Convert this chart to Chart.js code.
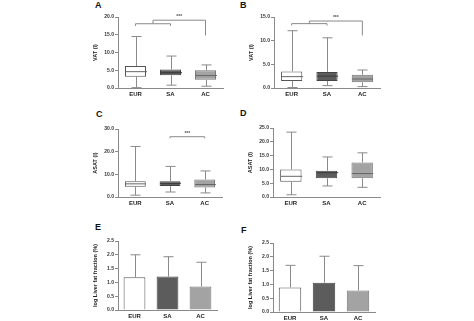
<!DOCTYPE html>
<html>
<head>
  <title>VAT, ASAT and liver fat by group</title>
  <script src="https://cdn.jsdelivr.net/npm/chart.js"></script>
  <style>
    body { margin: 0; width: 474px; height: 321px; overflow: hidden; background: #fff; font-family: "Liberation Sans", Arial, sans-serif; }
    .panel { position: absolute; }
    .tag { position: absolute; font-weight: bold; font-size: 9px; color: #111; }
  </style>
</head>
<body>
  <div class="tag" style="left:95px;top:0px">A</div>
  <div class="tag" style="left:240px;top:0px">B</div>
  <div class="tag" style="left:96px;top:109px">C</div>
  <div class="tag" style="left:240px;top:108px">D</div>
  <div class="tag" style="left:95px;top:222px">E</div>
  <div class="tag" style="left:241px;top:225px">F</div>

  <canvas id="chartA" class="panel" width="135" height="91" style="left:92px;top:11px"></canvas>
  <canvas id="chartB" class="panel" width="136" height="91" style="left:248px;top:11px"></canvas>
  <canvas id="chartC" class="panel" width="134" height="88" style="left:92px;top:123px"></canvas>
  <canvas id="chartD" class="panel" width="137" height="89" style="left:247px;top:122px"></canvas>
  <canvas id="chartE" class="panel" width="129" height="89" style="left:92px;top:235px"></canvas>
  <canvas id="chartF" class="panel" width="132" height="89" style="left:247px;top:237px"></canvas>

  <script>
    const groups = ['EUR', 'SA', 'AC'];

    // five-number summaries per group: [min, q1, median, q3, max]
    const vatA = [[0.1, 3.2, 4.6, 6.2, 14.5], [0.8, 3.6, 4.3, 5.2, 9.0], [0.5, 2.3, 3.5, 5.0, 6.5]];
    const vatB = [[0.1, 1.5, 2.4, 3.5, 12.1], [0.5, 1.5, 2.5, 3.4, 10.6], [0.3, 1.2, 1.9, 2.8, 3.8]];
    const asatC = [[0.8, 4.5, 5.8, 7.0, 22.3], [2.2, 4.8, 6.0, 7.0, 13.5], [1.8, 4.2, 5.5, 7.7, 11.5]];
    const asatD = [[0.8, 5.5, 7.5, 10.0, 23.5], [4.0, 6.8, 8.8, 9.5, 14.5], [3.5, 6.8, 8.5, 12.5, 16.0]];

    // log liver fat fraction: mean and SD
    const fatE = [1.19, 1.21, 0.85];
    const fatESd = [0.81, 0.72, 0.88];
    const fatF = [0.89, 1.06, 0.78];
    const fatFSd = [0.80, 0.96, 0.90];

    const fills = ['#ffffff', '#5c5c5c', '#a3a3a3'];
    const borders = ['#555555', '#444444', '#777777'];
    const medians = ['#666666', '#3a3a3a', '#666666'];
    const lineGrey = '#8a8a8a';

    // whiskers + medians for boxes, upward SD bars for bar panels, significance brackets
    const extrasPlugin = {
      id: 'extras',
      afterDatasetsDraw(chart, args, opts) {
        const { ctx, scales: { x, y } } = chart;
        const meta = chart.getDatasetMeta(0);
        ctx.save();
        ctx.lineWidth = 1;
        if (opts.stats) {
          opts.stats.forEach((s, i) => {
            const bar = meta.data[i];
            const cx = Math.round(bar.x) + 0.5;
            const half = bar.width / 2;
            ctx.strokeStyle = lineGrey;
            ctx.beginPath();
            ctx.moveTo(cx, y.getPixelForValue(s[3])); ctx.lineTo(cx, y.getPixelForValue(s[4]));
            ctx.moveTo(cx, y.getPixelForValue(s[1])); ctx.lineTo(cx, y.getPixelForValue(s[0]));
            ctx.moveTo(cx - 5, y.getPixelForValue(s[4])); ctx.lineTo(cx + 5, y.getPixelForValue(s[4]));
            ctx.moveTo(cx - 5, y.getPixelForValue(s[0])); ctx.lineTo(cx + 5, y.getPixelForValue(s[0]));
            ctx.stroke();
            ctx.strokeStyle = medians[i];
            ctx.beginPath();
            ctx.moveTo(cx - half, y.getPixelForValue(s[2])); ctx.lineTo(cx + half, y.getPixelForValue(s[2]));
            ctx.stroke();
          });
        }
        if (opts.means) {
          opts.means.forEach((m, i) => {
            const cx = Math.round(meta.data[i].x) + 0.5;
            const top = y.getPixelForValue(m + opts.sds[i]);
            ctx.strokeStyle = lineGrey;
            ctx.beginPath();
            ctx.moveTo(cx, y.getPixelForValue(m)); ctx.lineTo(cx, top);
            ctx.moveTo(cx - 5, top); ctx.lineTo(cx + 5, top);
            ctx.stroke();
          });
        }
        if (opts.brackets) {
          ctx.strokeStyle = lineGrey;
          opts.brackets.forEach(path => {
            ctx.beginPath();
            path.forEach(([cx, v], k) => {
              const px = x.getPixelForValue(cx), py = y.getPixelForValue(v);
              if (k === 0) ctx.moveTo(px, py); else ctx.lineTo(px, py);
            });
            ctx.stroke();
          });
        }
        if (opts.stars) {
          ctx.fillStyle = '#555';
          ctx.font = 'bold 5px "Liberation Sans", Arial';
          ctx.textAlign = 'center';
          ctx.textBaseline = 'bottom';
          ctx.fillText('***', x.getPixelForValue(opts.stars[0]), y.getPixelForValue(opts.stars[1]) - 1);
        }
        ctx.restore();
      }
    };

    function scalesFor(yMax, yStep, title) {
      return {
        x: {
          offset: true,
          grid: { display: false, drawTicks: false },
          border: { color: lineGrey, width: 1 },
          ticks: { color: '#222', padding: 3, font: { size: 6, weight: 'bold', family: '"Liberation Sans", Arial' } },
          afterFit: s => { s.height = 14; }
        },
        y: {
          min: 0, max: yMax,
          grid: { drawOnChartArea: false, tickLength: 3, color: lineGrey },
          border: { color: lineGrey, width: 1 },
          ticks: {
            stepSize: yStep, padding: 1, color: '#333',
            font: { size: 5, weight: 'bold', family: '"Liberation Sans", Arial' },
            callback: v => v.toFixed(1)
          },
          title: {
            display: true, text: title, color: '#222', padding: { top: 0, bottom: 2 },
            font: { size: 5.5, weight: 'bold', family: '"Liberation Sans", Arial' }
          },
          afterFit: s => { s.width = 26; }
        }
      };
    }

    function boxPanel(id, stats, yMax, yStep, title, extra) {
      new Chart(document.getElementById(id), {
        type: 'bar',
        data: {
          labels: groups,
          datasets: [{
            data: stats.map(s => [s[1], s[3]]),
            backgroundColor: fills,
            borderColor: borders,
            borderWidth: 1,
            borderSkipped: false,
            barPercentage: 0.6,
            categoryPercentage: 1
          }]
        },
        options: {
          responsive: false,
          animation: false,
          layout: { padding: { top: 6, right: 4, left: 0, bottom: 0 } },
          plugins: {
            legend: { display: false },
            tooltip: { enabled: false },
            extras: Object.assign({ stats: stats }, extra)
          },
          scales: scalesFor(yMax, yStep, title)
        },
        plugins: [extrasPlugin]
      });
    }

    function barPanel(id, means, sds, title) {
      new Chart(document.getElementById(id), {
        type: 'bar',
        data: {
          labels: groups,
          datasets: [{
            data: means,
            backgroundColor: fills,
            borderColor: borders,
            borderWidth: 1,
            borderSkipped: 'bottom',
            barPercentage: 0.66,
            categoryPercentage: 1
          }]
        },
        options: {
          responsive: false,
          animation: false,
          layout: { padding: { top: 6, right: 4, left: 0, bottom: 0 } },
          plugins: {
            legend: { display: false },
            tooltip: { enabled: false },
            extras: { means: means, sds: sds }
          },
          scales: scalesFor(2.5, 0.5, title)
        },
        plugins: [extrasPlugin]
      });
    }

    boxPanel('chartA', vatA, 20, 5, 'VAT (l)', {
      brackets: [
        [[0, 17.5], [0, 18.1], [1, 18.1], [1, 17.5]],
        [[0.5, 18.1], [0.5, 19.1], [2, 19.1], [2, 14.8]]
      ],
      stars: [1.25, 19.1]
    });
    boxPanel('chartB', vatB, 15, 5, 'VAT (l)', {
      brackets: [
        [[0, 13.2], [0, 13.6], [1, 13.6], [1, 13.2]],
        [[0.5, 13.6], [0.5, 14.15], [2, 14.15], [2, 11.1]]
      ],
      stars: [1.25, 14.15]
    });
    boxPanel('chartC', asatC, 30, 10, 'ASAT (l)', {
      brackets: [[[1, 25.9], [1, 26.6], [2, 26.6], [2, 25.9]]],
      stars: [1.5, 26.6]
    });
    boxPanel('chartD', asatD, 25, 5, 'ASAT (l)', {});
    barPanel('chartE', fatE, fatESd, 'log Liver fat fraction (%)');
    barPanel('chartF', fatF, fatFSd, 'log Liver fat fraction (%)');
  </script>
</body>
</html>
